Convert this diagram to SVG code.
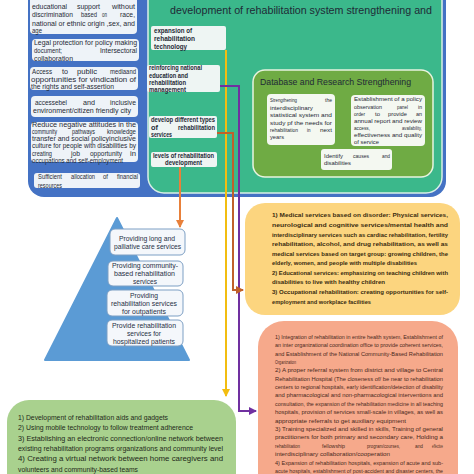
<svg xmlns="http://www.w3.org/2000/svg" width="474" height="474" viewBox="0 0 474 474">
<defs>
<style>
.t{font-family:"Liberation Sans",Arial,sans-serif;fill:#1f2a36}
.lb{font-size:7px}
.sm{font-size:6.3px}
.gb{font-size:6.4px;font-weight:bold}
.db{font-size:5.7px}
.py{font-size:7.6px;fill:#1f2f45}
.yl{font-size:5.6px;font-weight:bold;fill:#3a2c10}
.sa{font-size:5px;fill:#4a2a1e}
.gr{font-size:6.8px;fill:#1f2a1a}
.wb{fill:#eef3f8}
.wg{fill:#eef5f3}
.wd{fill:#f4f8f1}
.pb{fill:#f4f7fb;stroke:#7d9fc4;stroke-width:1}
.cn{fill:none;stroke-width:2}
</style>
<marker id="ay" markerUnits="userSpaceOnUse" markerWidth="9" markerHeight="9" refX="7" refY="4" orient="auto"><path d="M0,0 L8,4 L0,8 Z" fill="#f2bd10"/></marker>
<marker id="ap" markerUnits="userSpaceOnUse" markerWidth="9" markerHeight="9" refX="7" refY="4" orient="auto"><path d="M0,0 L8,4 L0,8 Z" fill="#7030a0"/></marker>
<marker id="ab" markerUnits="userSpaceOnUse" markerWidth="9" markerHeight="9" refX="7" refY="4" orient="auto"><path d="M0,0 L8,4 L0,8 Z" fill="#c0602a"/></marker>
<marker id="ao" markerUnits="userSpaceOnUse" markerWidth="9" markerHeight="9" refX="7" refY="4" orient="auto"><path d="M0,0 L8,4 L0,8 Z" fill="#e8803a"/></marker>
</defs>
<rect width="474" height="474" fill="#ffffff"/>

<g id="outer-frame">
<rect x="28" y="-20" width="418" height="217" rx="16" fill="#4472c4"/>
<rect x="148" y="-20" width="294" height="213" rx="16" fill="#3bb88b" stroke="#d9efe6" stroke-width="1.5"/>
<text class="t" x="170" y="14" font-size="10.5" fill="#1b2b2a" textLength="262" lengthAdjust="spacingAndGlyphs">development of rehabilitation system strengthening and</text>
</g>

<g id="left1">
<rect class="wb" x="30" y="-6" width="107" height="40" rx="4"/>
<text class="t lb" x="32" y="9" textLength="35" lengthAdjust="spacingAndGlyphs">educational</text>
<text class="t lb" x="77" y="9" textLength="23" lengthAdjust="spacingAndGlyphs">support</text>
<text class="t lb" x="112" y="9" textLength="23" lengthAdjust="spacingAndGlyphs">without</text>
<text class="t lb" x="32" y="17.3" textLength="41" lengthAdjust="spacingAndGlyphs">discrimination</text>
<text class="t lb" x="81" y="17.3" textLength="16" lengthAdjust="spacingAndGlyphs">based</text>
<text class="t lb" x="102" y="17.3" textLength="5" lengthAdjust="spacingAndGlyphs">on</text>
<text class="t lb" x="120" y="17.3" textLength="15" lengthAdjust="spacingAndGlyphs">race,</text>
<text class="t lb" x="32" y="25.5" textLength="103" lengthAdjust="spacingAndGlyphs">national or ethnic origin ,sex, and</text>
<text class="t lb" x="32" y="33.3" textLength="10" lengthAdjust="spacingAndGlyphs">age</text>
</g>

<g id="left2">
<rect class="wb" x="32" y="39" width="107" height="22" rx="4"/>
<text class="t lb" x="34" y="45" textLength="103" lengthAdjust="spacingAndGlyphs">Legal protection for policy making</text>
<text class="t lb" x="34" y="53" textLength="28" lengthAdjust="spacingAndGlyphs">document;</text>
<text class="t lb" x="100" y="53" textLength="37" lengthAdjust="spacingAndGlyphs">Intersectoral</text>
<text class="t lb" x="34" y="61" textLength="39" lengthAdjust="spacingAndGlyphs">collaboration</text>
</g>

<g id="left3">
<rect class="wb" x="30" y="67" width="108" height="23" rx="4"/>
<text class="t lb" x="32" y="73.5" textLength="20" lengthAdjust="spacingAndGlyphs">Access</text>
<text class="t lb" x="62" y="73.5" textLength="6" lengthAdjust="spacingAndGlyphs">to</text>
<text class="t lb" x="77" y="73.5" textLength="20" lengthAdjust="spacingAndGlyphs">public</text>
<text class="t lb" x="110" y="73.5" textLength="26" lengthAdjust="spacingAndGlyphs">mediaand</text>
<text class="t lb" x="31" y="81.5" textLength="105" lengthAdjust="spacingAndGlyphs">opportunities for vindication of</text>
<text class="t lb" x="31" y="89.3" textLength="83" lengthAdjust="spacingAndGlyphs">the rights and self-assertion</text>
</g>

<g id="left4">
<rect class="wb" x="31" y="96" width="107" height="21" rx="4"/>
<text class="t lb" x="35" y="104.5" textLength="32" lengthAdjust="spacingAndGlyphs">accessebel</text>
<text class="t lb" x="83" y="104.5" textLength="12" lengthAdjust="spacingAndGlyphs">and</text>
<text class="t lb" x="110" y="104.5" textLength="26" lengthAdjust="spacingAndGlyphs">inclusive</text>
<text class="t lb" x="33" y="113.3" textLength="98" lengthAdjust="spacingAndGlyphs">environment/citizen friendly city</text>
</g>

<g id="left5">
<rect class="wb" x="31" y="122" width="107" height="40" rx="4"/>
<text class="t sm" x="32" y="127" textLength="104" lengthAdjust="spacingAndGlyphs">Reduce negative attitudes in the</text>
<text class="t sm" x="32" y="134.2" textLength="25" lengthAdjust="spacingAndGlyphs">community</text>
<text class="t sm" x="72" y="134.2" textLength="23" lengthAdjust="spacingAndGlyphs">pathways</text>
<text class="t sm" x="107" y="134.2" textLength="29" lengthAdjust="spacingAndGlyphs">knowledge</text>
<text class="t sm" x="32" y="141.2" textLength="104" lengthAdjust="spacingAndGlyphs">transfer and social policyinclusive</text>
<text class="t sm" x="32" y="148.3" textLength="104" lengthAdjust="spacingAndGlyphs">culture for people with disabilities by</text>
<text class="t sm" x="32" y="155.5" textLength="20" lengthAdjust="spacingAndGlyphs">creating</text>
<text class="t sm" x="71" y="155.5" textLength="9" lengthAdjust="spacingAndGlyphs">job</text>
<text class="t sm" x="90" y="155.5" textLength="32" lengthAdjust="spacingAndGlyphs">opportunity</text>
<text class="t sm" x="130" y="155.5" textLength="6" lengthAdjust="spacingAndGlyphs">in</text>
<text class="t sm" x="32" y="162.5" textLength="91" lengthAdjust="spacingAndGlyphs">occupations and self-employment</text>
</g>

<g id="left6">
<rect class="wb" x="34" y="173" width="106" height="15" rx="3"/>
<text class="t sm" x="38" y="179.3" textLength="24" lengthAdjust="spacingAndGlyphs">Sufficient</text>
<text class="t sm" x="71" y="179.3" textLength="24" lengthAdjust="spacingAndGlyphs">allocation</text>
<text class="t sm" x="103" y="179.3" textLength="5" lengthAdjust="spacingAndGlyphs">of</text>
<text class="t sm" x="117" y="179.3" textLength="21" lengthAdjust="spacingAndGlyphs">financial</text>
<text class="t sm" x="38" y="187.6" textLength="24" lengthAdjust="spacingAndGlyphs">resources</text>
</g>

<g id="tech">
<rect class="wg" x="151" y="26" width="75" height="24" rx="2"/>
<text class="t gb" x="154" y="32.5" font-size="7" textLength="38" lengthAdjust="spacingAndGlyphs">expansion of</text>
<text class="t gb" x="154" y="40.5" font-size="7" textLength="41" lengthAdjust="spacingAndGlyphs">rehabilitation</text>
<text class="t gb" x="154" y="48.5" font-size="7" textLength="33" lengthAdjust="spacingAndGlyphs">technology</text>
</g>

<g id="education">
<rect class="wg" x="147" y="65" width="73" height="27" rx="2"/>
<text class="t gb" x="149" y="70.3" textLength="53" lengthAdjust="spacingAndGlyphs">reinforcing national</text>
<text class="t gb" x="149" y="77.5" textLength="39" lengthAdjust="spacingAndGlyphs">education and</text>
<text class="t gb" x="149" y="84.5" textLength="37" lengthAdjust="spacingAndGlyphs">rehabilitation</text>
<text class="t gb" x="149" y="91.5" textLength="37" lengthAdjust="spacingAndGlyphs">management</text>
</g>

<g id="services">
<rect class="wg" x="149" y="116" width="68" height="22" rx="2"/>
<text class="t gb" x="151" y="122.3" textLength="64" lengthAdjust="spacingAndGlyphs">develop different types</text>
<text class="t gb" x="151" y="129.5" textLength="7" lengthAdjust="spacingAndGlyphs">of</text>
<text class="t gb" x="178" y="129.5" textLength="37" lengthAdjust="spacingAndGlyphs">rehabilitation</text>
<text class="t gb" x="151" y="136.5" textLength="21" lengthAdjust="spacingAndGlyphs">services</text>
</g>

<g id="levels">
<rect class="wg" x="151" y="152" width="66" height="15" rx="2"/>
<text class="t gb" x="153" y="158.3" textLength="61" lengthAdjust="spacingAndGlyphs">levels of rehabilitation</text>
<text class="t gb" x="165" y="165.3" textLength="37" lengthAdjust="spacingAndGlyphs">development</text>
</g>

<g id="database">
<rect x="253" y="70" width="180" height="107" rx="12" fill="#6fab44" stroke="#e8f3df" stroke-width="1.5"/>
<text class="t" x="260" y="84.5" font-size="9" fill="#1e2a38" textLength="151" lengthAdjust="spacingAndGlyphs">Database and Research Strengthening</text>
</g>

<g id="db-statistics">
<rect class="wd" x="267" y="94" width="68" height="51" rx="4"/>
<text class="t db" x="270" y="102" textLength="27" lengthAdjust="spacingAndGlyphs">Strengthening</text>
<text class="t db" x="325" y="102" textLength="7" lengthAdjust="spacingAndGlyphs">the</text>
<text class="t db" x="270" y="109.5" textLength="43" lengthAdjust="spacingAndGlyphs">interdisciplinary</text>
<text class="t db" x="270" y="117" textLength="62" lengthAdjust="spacingAndGlyphs">statistical system and</text>
<text class="t db" x="270" y="124.5" textLength="62" lengthAdjust="spacingAndGlyphs">study pf the needs for</text>
<text class="t db" x="270" y="131.7" textLength="28" lengthAdjust="spacingAndGlyphs">rehabilitation</text>
<text class="t db" x="307" y="131.7" textLength="3.5" lengthAdjust="spacingAndGlyphs">in</text>
<text class="t db" x="320" y="131.7" textLength="12" lengthAdjust="spacingAndGlyphs">next</text>
<text class="t db" x="270" y="138.7" textLength="14" lengthAdjust="spacingAndGlyphs">years</text>
</g>

<g id="db-panel">
<rect class="wd" x="351" y="95" width="74" height="51" rx="4"/>
<text class="t db" x="354" y="101" textLength="68" lengthAdjust="spacingAndGlyphs">Establishment of a policy</text>
<text class="t db" x="354" y="108.7" textLength="28" lengthAdjust="spacingAndGlyphs">observation</text>
<text class="t db" x="397" y="108.7" textLength="11" lengthAdjust="spacingAndGlyphs">panel</text>
<text class="t db" x="418" y="108.7" textLength="4" lengthAdjust="spacingAndGlyphs">in</text>
<text class="t db" x="354" y="116" textLength="11" lengthAdjust="spacingAndGlyphs">order</text>
<text class="t db" x="375" y="116" textLength="5" lengthAdjust="spacingAndGlyphs">to</text>
<text class="t db" x="388" y="116" textLength="19" lengthAdjust="spacingAndGlyphs">provide</text>
<text class="t db" x="416" y="116" textLength="6" lengthAdjust="spacingAndGlyphs">an</text>
<text class="t db" x="354" y="123" textLength="68" lengthAdjust="spacingAndGlyphs">annual report and review</text>
<text class="t db" x="354" y="130" textLength="16" lengthAdjust="spacingAndGlyphs">access,</text>
<text class="t db" x="402" y="130" textLength="20" lengthAdjust="spacingAndGlyphs">availability,</text>
<text class="t db" x="354" y="137" textLength="68" lengthAdjust="spacingAndGlyphs">effectiveness and quality</text>
<text class="t db" x="354" y="144" textLength="25" lengthAdjust="spacingAndGlyphs">of service</text>
</g>

<g id="db-causes">
<rect class="wd" x="321" y="149" width="71" height="21" rx="3"/>
<text class="t db" x="324" y="158" textLength="19" lengthAdjust="spacingAndGlyphs">Identify</text>
<text class="t db" x="353" y="158" textLength="16" lengthAdjust="spacingAndGlyphs">causes</text>
<text class="t db" x="382" y="158" textLength="8" lengthAdjust="spacingAndGlyphs">and</text>
<text class="t db" x="324" y="165.3" textLength="27" lengthAdjust="spacingAndGlyphs">disabilities</text>
</g>

<g id="pyramid">
<polygon points="117,218 189,360 45,360" fill="#5b9bd5" stroke="#5b9bd5" stroke-width="2" stroke-linejoin="round"/>
</g>

<g id="pyr-long">
<rect class="pb" x="110" y="229" width="75" height="26" rx="5"/>
<text class="t py" x="147" y="240.5" text-anchor="middle" textLength="56" lengthAdjust="spacingAndGlyphs">Providing long and</text>
<text class="t py" x="147.5" y="249.3" text-anchor="middle" textLength="67" lengthAdjust="spacingAndGlyphs">palliative care services</text>
</g>

<g id="pyr-community">
<rect class="pb" x="108" y="261" width="75" height="25" rx="5"/>
<text class="t py" x="145" y="267.5" text-anchor="middle" textLength="66" lengthAdjust="spacingAndGlyphs">Providing community-</text>
<text class="t py" x="144.5" y="275.8" text-anchor="middle" textLength="61" lengthAdjust="spacingAndGlyphs">based rehabilitation</text>
<text class="t py" x="145" y="284" text-anchor="middle" textLength="24" lengthAdjust="spacingAndGlyphs">services</text>
</g>

<g id="pyr-outpatients">
<rect class="pb" x="107" y="290" width="76" height="26" rx="5"/>
<text class="t py" x="144" y="297.5" text-anchor="middle" textLength="28" lengthAdjust="spacingAndGlyphs">Providing</text>
<text class="t py" x="144" y="305.5" text-anchor="middle" textLength="66" lengthAdjust="spacingAndGlyphs">rehabilitation services</text>
<text class="t py" x="144" y="313.5" text-anchor="middle" textLength="44" lengthAdjust="spacingAndGlyphs">for outpatients</text>
</g>

<g id="pyr-hospitalized">
<rect class="pb" x="107" y="320" width="76" height="26" rx="5"/>
<text class="t py" x="144" y="327.5" text-anchor="middle" textLength="64" lengthAdjust="spacingAndGlyphs">Provide rehabilitation</text>
<text class="t py" x="144" y="335.5" text-anchor="middle" textLength="34" lengthAdjust="spacingAndGlyphs">services for</text>
<text class="t py" x="144" y="343.5" text-anchor="middle" textLength="62" lengthAdjust="spacingAndGlyphs">hospitalized patients</text>
</g>

<g id="yellow-services">
<rect x="245" y="203" width="215" height="112" rx="20" fill="#fcd57f"/>
<text class="t yl" x="272" y="217" textLength="176" lengthAdjust="spacingAndGlyphs">1) Medical services based on disorder: Physical services,</text>
<text class="t yl" x="272" y="226.5" textLength="176" lengthAdjust="spacingAndGlyphs">neurological and cognitive services/mental health and</text>
<text class="t yl" x="272" y="236.5" textLength="176" lengthAdjust="spacingAndGlyphs">interdisciplinary services such as cardiac rehabilitation, fertility</text>
<text class="t yl" x="272" y="246" textLength="176" lengthAdjust="spacingAndGlyphs">rehabilitation, alcohol, and drug rehabilitation, as well as</text>
<text class="t yl" x="272" y="255.7" textLength="176" lengthAdjust="spacingAndGlyphs">medical services based on target group: growing children, the</text>
<text class="t yl" x="272" y="265.3" textLength="145" lengthAdjust="spacingAndGlyphs">elderly, women, and people with multiple disabilities</text>
<text class="t yl" x="272" y="275" textLength="176" lengthAdjust="spacingAndGlyphs">2) Educational services: emphasizing on teaching children with</text>
<text class="t yl" x="272" y="284.3" textLength="113" lengthAdjust="spacingAndGlyphs">disabilities to live with healthy children</text>
<text class="t yl" x="272" y="294.3" textLength="176" lengthAdjust="spacingAndGlyphs">3) Occupational rehabilitation: creating opportunities for self-</text>
<text class="t yl" x="272" y="304" textLength="99" lengthAdjust="spacingAndGlyphs">employment and workplace facilities</text>
</g>

<g id="salmon-system">
<rect x="258" y="321" width="200" height="180" rx="26" fill="#f6a98b"/>
<text class="t sa" x="275" y="339" textLength="168" lengthAdjust="spacingAndGlyphs">1) Integration of rehabilitation in entire health system, Establishment of</text>
<text class="t sa" x="275" y="347.3" textLength="168" lengthAdjust="spacingAndGlyphs">an inter organizational coordination office to provide coherent services,</text>
<text class="t sa" x="275" y="355.7" textLength="168" lengthAdjust="spacingAndGlyphs">and Establishment of the National Community-Based Rehabilitation</text>
<text class="t sa" x="275" y="364" textLength="21" lengthAdjust="spacingAndGlyphs">Organization</text>
<text class="t sa" x="275" y="372.3" textLength="168" lengthAdjust="spacingAndGlyphs">2) A proper referral system from district and village to Central</text>
<text class="t sa" x="275" y="380.7" textLength="168" lengthAdjust="spacingAndGlyphs">Rehabilitation Hospital (The closeness of/ be near to rehabilitation</text>
<text class="t sa" x="275" y="389" textLength="168" lengthAdjust="spacingAndGlyphs">centers to regional hospitals, early identification/detection of disability</text>
<text class="t sa" x="275" y="397.3" textLength="168" lengthAdjust="spacingAndGlyphs">and pharmacological and non-pharmacological interventions and</text>
<text class="t sa" x="275" y="405.7" textLength="168" lengthAdjust="spacingAndGlyphs">consultation, the expansion of the rehabilitation medicine in all teaching</text>
<text class="t sa" x="275" y="414" textLength="168" lengthAdjust="spacingAndGlyphs">hospitals, provision of services small-scale in villages, as well as</text>
<text class="t sa" x="275" y="422.5" textLength="131" lengthAdjust="spacingAndGlyphs">appropriate referrals to get auxiliary equipment</text>
<text class="t sa" x="275" y="430.8" textLength="168" lengthAdjust="spacingAndGlyphs">3) Training specialized and skilled in skills, Training of general</text>
<text class="t sa" x="275" y="439.2" textLength="168" lengthAdjust="spacingAndGlyphs">practitioners for both primary and secondary care, Holding a</text>
<text class="t sa" x="275" y="447.6" textLength="25" lengthAdjust="spacingAndGlyphs">rehabilitation</text>
<text class="t sa" x="322" y="447.6" textLength="23" lengthAdjust="spacingAndGlyphs">fellowship</text>
<text class="t sa" x="367" y="447.6" textLength="33" lengthAdjust="spacingAndGlyphs">program/courses,</text>
<text class="t sa" x="415" y="447.6" textLength="8" lengthAdjust="spacingAndGlyphs">and</text>
<text class="t sa" x="432" y="447.6" textLength="11" lengthAdjust="spacingAndGlyphs">effective</text>
<text class="t sa" x="275" y="456" textLength="115" lengthAdjust="spacingAndGlyphs">interdisciplinary collaboration/cooperation</text>
<text class="t sa" x="275" y="464.5" textLength="168" lengthAdjust="spacingAndGlyphs">4) Expansion of rehabilitation hospitals, expansion of acute and sub-</text>
<text class="t sa" x="275" y="472.8" textLength="168" lengthAdjust="spacingAndGlyphs">acute hospitals, establishment of post-accident and disaster centers, the</text>
</g>

<g id="green-technology">
<rect x="7" y="400" width="229" height="100" rx="22" fill="#a9d18e"/>
<text class="t gr" x="18" y="419.5" textLength="150" lengthAdjust="spacingAndGlyphs">1) Development of rehabilitation aids and gadgets</text>
<text class="t gr" x="18" y="430" textLength="175" lengthAdjust="spacingAndGlyphs">2) Using mobile technology to follow treatment adherence</text>
<text class="t gr" x="18" y="441.3" textLength="205" lengthAdjust="spacingAndGlyphs">3) Establishing an electronic connection/online network between</text>
<text class="t gr" x="18" y="450.7" textLength="205" lengthAdjust="spacingAndGlyphs">existing rehabilitation programs organizations and community level</text>
<text class="t gr" x="18" y="461" textLength="205" lengthAdjust="spacingAndGlyphs">4) Creating a virtual network between home caregivers and</text>
<text class="t gr" x="18" y="472" textLength="120" lengthAdjust="spacingAndGlyphs">volunteers and community-based teams</text>
</g>

<g id="connectors">
<path class="cn" d="M226,50 V396" stroke="#f2bd10" marker-end="url(#ay)"/>
<path class="cn" d="M220,86 H239 V411 H256" stroke="#7030a0" marker-end="url(#ap)"/>
<path class="cn" d="M217,133 H233 V290 H243" stroke="#c0602a" marker-end="url(#ab)"/>
<path class="cn" d="M180,167 V227" stroke="#e8803a" marker-end="url(#ao)"/>
</g>
</svg>
